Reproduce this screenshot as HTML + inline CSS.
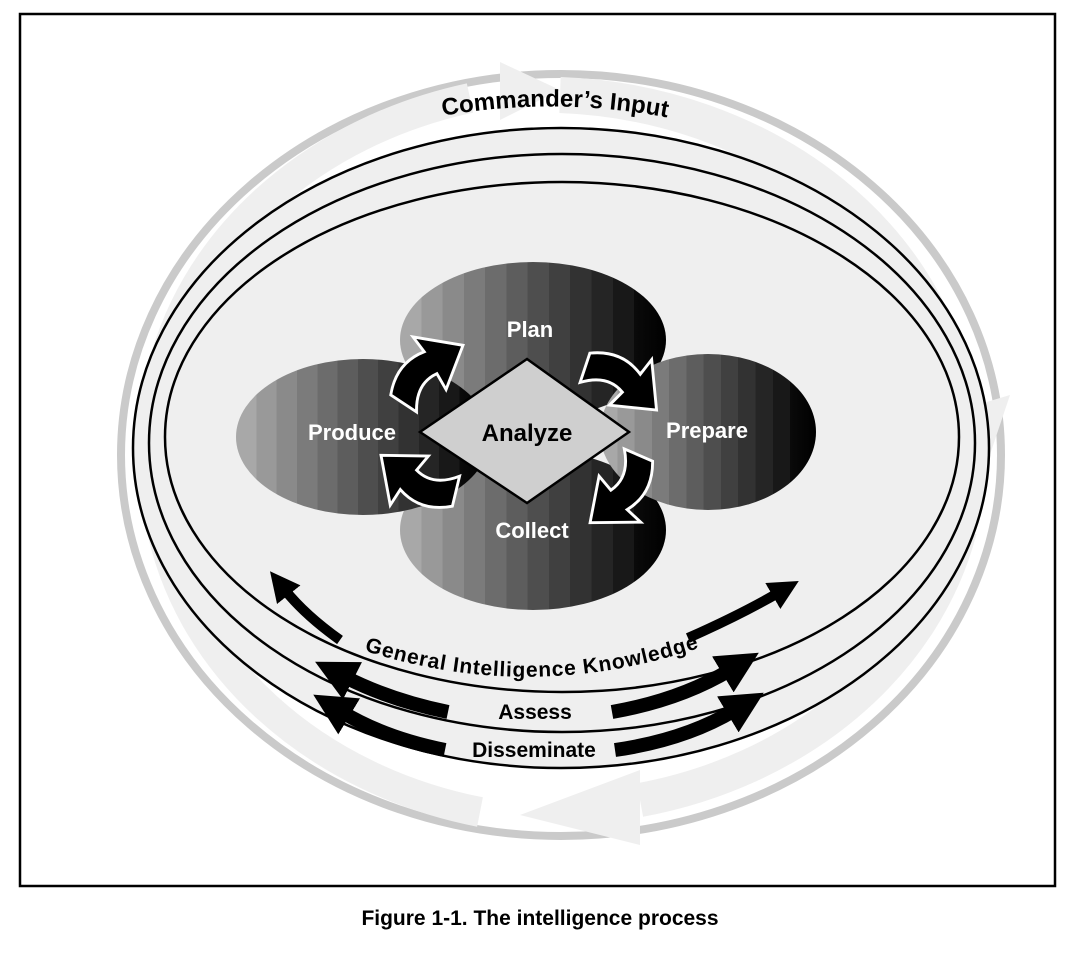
<!DOCTYPE html>
<html><head><meta charset="utf-8"><style>
html,body{margin:0;padding:0;background:#fff;width:1080px;height:954px;overflow:hidden}
</style></head><body>
<svg width="1080" height="954" viewBox="0 0 1080 954" xmlns="http://www.w3.org/2000/svg" font-family="Liberation Sans, Arial, sans-serif">
<defs>
<linearGradient id="pg" x1="0" x2="1" y1="0" y2="0">
<stop offset="0" stop-color="#a8a8a8"/><stop offset="0.08" stop-color="#a8a8a8"/>
<stop offset="0.08" stop-color="#999"/><stop offset="0.16" stop-color="#999"/>
<stop offset="0.16" stop-color="#8a8a8a"/><stop offset="0.24" stop-color="#8a8a8a"/>
<stop offset="0.24" stop-color="#7b7b7b"/><stop offset="0.32" stop-color="#7b7b7b"/>
<stop offset="0.32" stop-color="#6c6c6c"/><stop offset="0.40" stop-color="#6c6c6c"/>
<stop offset="0.40" stop-color="#5d5d5d"/><stop offset="0.48" stop-color="#5d5d5d"/>
<stop offset="0.48" stop-color="#4e4e4e"/><stop offset="0.56" stop-color="#4e4e4e"/>
<stop offset="0.56" stop-color="#404040"/><stop offset="0.64" stop-color="#404040"/>
<stop offset="0.64" stop-color="#323232"/><stop offset="0.72" stop-color="#323232"/>
<stop offset="0.72" stop-color="#252525"/><stop offset="0.80" stop-color="#252525"/>
<stop offset="0.80" stop-color="#181818"/><stop offset="0.88" stop-color="#181818"/>
<stop offset="0.88" stop-color="#0a0a0a"/><stop offset="1" stop-color="#000"/>
</linearGradient>
<marker id="ah" viewBox="0 0 10 10" refX="2" refY="5" markerWidth="3" markerHeight="3" orient="auto">
<path d="M0,0 L10,5 L0,10 Z" fill="#000"/></marker>
<path id="gik" d="M348,645 Q530,710 716,642"/>
<path id="ci" d="M412,122 Q555,90 698,124"/>
<path id="ba" d="M0,10 Q18,-12 44,-8 L42,-24 L76,4 L44,30 L44,14 Q24,12 12,34 Z"/>
</defs>

<rect x="20" y="14" width="1035" height="872" fill="#fff" stroke="#000" stroke-width="2.5"/>

<ellipse cx="561" cy="455" rx="440" ry="381" fill="none" stroke="#cacaca" stroke-width="8"/>
<path d="M560,95 A420,355 0 0 1 960,420" fill="none" stroke="#efefef" stroke-width="36"/>
<polygon points="910,425 1010,395 968,520" fill="#efefef"/>
<path d="M960,530 A420,355 0 0 1 640,800" fill="none" stroke="#efefef" stroke-width="34"/>
<polygon points="640,770 520,815 640,845" fill="#efefef"/>
<path d="M480,812 A420,355 0 0 1 160,520" fill="none" stroke="#efefef" stroke-width="30"/>
<path d="M160,380 A420,355 0 0 1 470,98" fill="none" stroke="#efefef" stroke-width="30"/>
<polygon points="500,62 560,90 500,120" fill="#efefef"/>

<ellipse cx="561" cy="448" rx="428" ry="320" fill="#efefef" stroke="#000" stroke-width="2.5"/>
<ellipse cx="562" cy="443" rx="413" ry="289" fill="#efefef" stroke="#000" stroke-width="2.5"/>
<ellipse cx="562" cy="437" rx="397" ry="255" fill="#efefef" stroke="#000" stroke-width="2.5"/>

<ellipse cx="533" cy="340" rx="133" ry="78" fill="url(#pg)"/>
<ellipse cx="533" cy="530" rx="133" ry="80" fill="url(#pg)"/>
<ellipse cx="363" cy="437" rx="127" ry="78" fill="url(#pg)"/>
<ellipse cx="708" cy="432" rx="108" ry="78" fill="url(#pg)"/>

<polygon points="420,432 527,359 629,432 527,503" fill="#cfcfcf" stroke="#000" stroke-width="2.5"/>
<text x="527" y="441" text-anchor="middle" font-size="24" font-weight="bold" fill="#000">Analyze</text>

<g fill="#fff" font-weight="bold" font-size="22" text-anchor="middle">
<text x="530" y="337">Plan</text>
<text x="352" y="440">Produce</text>
<text x="707" y="438">Prepare</text>
<text x="532" y="538">Collect</text>
</g>

<g fill="#000" stroke="#fff" stroke-width="2.5">
<use href="#ba" transform="translate(385,385) rotate(-30) scale(1.15)"/>
<use href="#ba" transform="translate(598,345) rotate(45) scale(1.15)"/>
<use href="#ba" transform="translate(660,470) rotate(140) scale(1.15)"/>
<use href="#ba" transform="translate(445,515) rotate(-140) scale(1.15)"/>
</g>

<g fill="none" stroke="#000" stroke-width="10">
<path d="M340,640 Q305,615 285,590" marker-end="url(#ah)"/>
<path d="M688,638 Q740,615 778,593" marker-end="url(#ah)"/>
<path d="M448,712 Q390,700 345,677" stroke-width="14" marker-end="url(#ah)"/>
<path d="M612,712 Q680,700 730,670" stroke-width="14" marker-end="url(#ah)"/>
<path d="M445,750 Q385,738 342,712" stroke-width="14" marker-end="url(#ah)"/>
<path d="M615,750 Q685,740 735,710" stroke-width="14" marker-end="url(#ah)"/>
</g>
<text font-size="21" font-weight="bold" letter-spacing="0.8"><textPath href="#gik" startOffset="50%" text-anchor="middle">General Intelligence Knowledge</textPath></text>
<text x="535" y="719" text-anchor="middle" font-size="21" font-weight="bold">Assess</text>
<text x="534" y="757" text-anchor="middle" font-size="21" font-weight="bold">Disseminate</text>

<text font-size="24" font-weight="bold"><textPath href="#ci" startOffset="50%" text-anchor="middle">Commander’s Input</textPath></text>

<text x="540" y="925" text-anchor="middle" font-size="21" font-weight="bold">Figure 1-1. The intelligence process</text>
</svg>
</body></html>
